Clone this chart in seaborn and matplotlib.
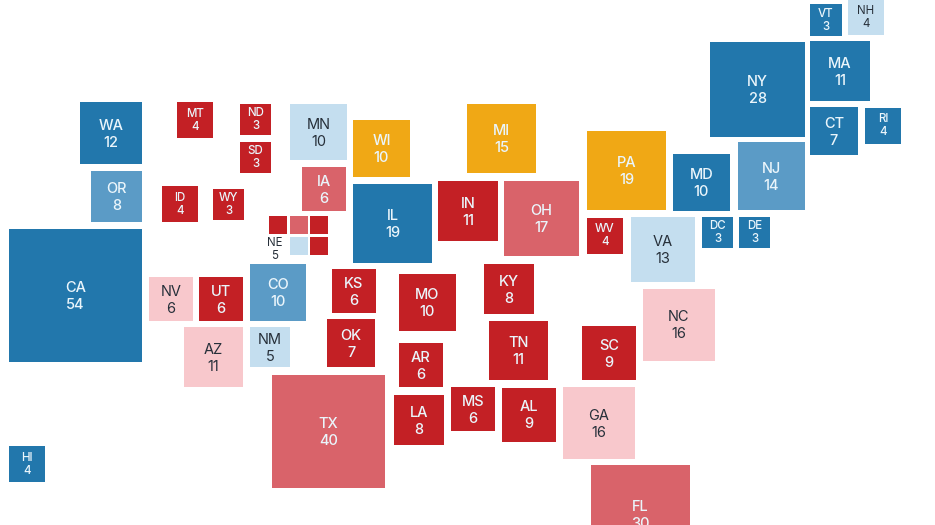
import matplotlib
matplotlib.use("Agg")
import matplotlib.pyplot as plt
import pandas as pd
import seaborn as sns

states = ["VT","NH","MA","NY","CT","RI","WA","OR","CA","MT","ND","SD","MN","WI","MI","IA","ID","WY",
          "IL","IN","OH","PA","MD","NJ","WV","VA","DC","DE","CO","NV","UT","KS","MO","KY","OK","NM",
          "AZ","AR","TN","SC","NC","TX","LA","MS","AL","GA","FL","HI",
          "NE1","NE2","NE3","NE4","NE5"]
votes = [3,4,11,28,7,4,12,8,54,4,3,3,10,10,15,6,4,3,
         19,11,17,19,10,14,4,13,3,3,10,6,6,6,10,8,7,5,
         11,6,11,9,16,40,8,6,9,16,30,4,
         1,1,1,1,1]
lean = ["D","LD","D","D","D","D","D","MD","D","R","R","R","LD","T","T","MR","R","R",
        "D","R","MR","T","D","MD","R","LD","D","D","MD","LR","R","R","R","R","R","LD",
        "LR","R","R","R","LR","MR","R","R","R","LR","MR","D",
        "R","MR","R","LD","R"]
center_x = [826,866,840,757.5,834,883,111,116.5,75.5,195,255.5,255.5,318.5,381.5,501.5,324,180,228.5,
            392.5,468,541.5,626.5,701.5,771.5,605,663,717.5,754.5,278,171,221,354,427.5,509,351,270,
            213.5,421,518.5,609,678.5,328.5,419,473,528.5,598.5,640.5,27,
            278,299,319,299,319]
center_y = [20,17,71,89.5,131,125.5,133,196.5,295.5,120,119.5,157.5,132,148.5,138.5,189,204,204.5,
            223.5,211,218.5,170.5,182.5,176,235.5,249.5,232.5,232.5,292.5,299,299,291,302.5,289,343,347,
            357,365,350.5,353,324.5,431.5,420,409,414.5,423,514.5,464,
            225,225,225,246,246]

palette = {"D":"#2277AC","MD":"#5B9BC6","LD":"#C4DEEF","T":"#F0A815",
           "LR":"#F8C8CC","MR":"#D9636A","R":"#C32025"}
dark_text = {"LD","LR"}
PX = 72 / 100                # points per pixel
AREA = (18.0 * PX) ** 2      # marker area (pt^2) per electoral vote

df = pd.DataFrame({"state":states,"votes":votes,"lean":lean,"x":center_x,"y":center_y})

fig = plt.figure(figsize=(9.35,5.25), dpi=100)
ax = fig.add_axes([0,0,1,1])
sns.scatterplot(data=df, x="x", y="y", hue="lean", palette=palette, size="votes",
                sizes=(AREA*1, AREA*54), size_norm=(1,54), marker="s", linewidth=0,
                legend=False, ax=ax)
ax.set_xlim(0,935); ax.set_ylim(525,0); ax.axis("off")

font = "Inter"
for _, r in df.iterrows():
    if r.state.startswith("NE"):
        continue
    small = r.votes <= 4
    dark = r.lean in dark_text
    color = "#27303A" if dark else "#EAF5FB"
    weight = "normal" if dark else "medium"
    fs = 8.3 if small else 10.5
    gap = 6.5 if small else 8.4
    shift = 0.3 if small else 1.3
    ax.text(r.x, r.y+shift-gap, r.state, ha="center", va="center", fontsize=fs, color=color, family=font, fontweight=weight)
    ax.text(r.x, r.y+shift+gap, str(r.votes), ha="center", va="center", fontsize=fs, color=color, family=font, fontweight=weight)
ax.text(274.5, 242.5, "NE", ha="center", va="center", fontsize=8.3, color="#27303A", family=font)
ax.text(274.5, 256, "5", ha="center", va="center", fontsize=8.3, color="#27303A", family=font)

fig.savefig("out.png", dpi=100, facecolor="white")
